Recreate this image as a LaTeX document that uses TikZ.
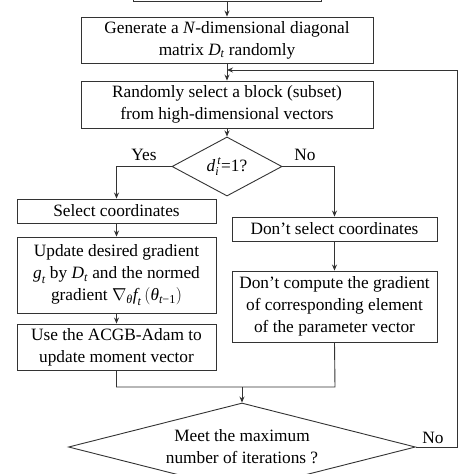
\documentclass[tikz,border=0pt]{standalone}
\usepackage{amsmath}
\usepackage{fontspec}
\setmainfont{Liberation Serif}
\usetikzlibrary{shapes.geometric,arrows.meta}
\begin{document}
\begin{tikzpicture}[x=1pt,y=-1pt,
  line width=0.9pt,
  every node/.style={font=\fontsize{17.3}{22}\selectfont, text=black},
  box/.style={draw=black!80, align=center, inner sep=0pt},
  dec/.style={draw=black!80, diamond, align=center, inner sep=0pt},
  arr/.style={-{Stealth[length=6pt,width=5pt]}},
  ln/.style={draw=black!80}
]
\useasboundingbox (0,0) rectangle (474,474);
\clip (0,0) rectangle (474,474);
\fill[white] (0,0) rectangle (474,474);

\node[box, minimum width=188pt, minimum height=30pt] (b1) at (227,-14) {};
\node[box, minimum width=292pt, minimum height=46pt] (b2) at (227,40)
  {Generate a \textit{N}-dimensional diagonal\\matrix $\textit{D}_{\textit{t}}$ randomly};
\node[box, minimum width=292pt, minimum height=47pt] (b3) at (227,104.5)
  {Randomly select a block (subset)\\from high-dimensional vectors};
\node[dec, minimum width=110pt, minimum height=47pt] (d1) at (227,166.5)
  {$\textit{d}^{\,\textit{t}}_{\textit{i}}$=1?};
\node[box, minimum width=199pt, minimum height=24pt] (sel) at (116.5,211)
  {Select coordinates};
\node[box, minimum width=199pt, minimum height=76pt] (up) at (116.5,275)
  {Update desired gradient\\$\textit{g}_{\textit{t}}$ by $\textit{D}_{\textit{t}}$ and the normed\\gradient $\nabla_{\textit{θ}}\textit{f}_{\textit{t}}\,(\textit{θ}_{\textit{t}\text{−1}})$};
\node[box, minimum width=199pt, minimum height=46pt] (ad) at (116.5,347)
  {Use the ACGB-Adam to\\update moment vector};
\node[box, minimum width=205pt, minimum height=24pt] (ds) at (334.5,229)
  {Don’t select coordinates};
\node[box, minimum width=205pt, minimum height=71pt] (dc) at (334.5,306.5)
  {Don’t compute the gradient\\of corresponding element\\of the parameter vector};
\node[dec, minimum width=347pt, minimum height=88pt] (d2) at (242,447) {};
\node[align=center, inner sep=0pt] (d2t) at (242,447)
  {Meet the maximum\\number of iterations ?};

\node (yes) at (144,155) {Yes};
\node (no1) at (305,155) {No};
\node (no2) at (433,438) {No};

\coordinate (jn) at (227,70);
\coordinate (lp1) at (457,447);
\coordinate (lp2) at (457,70);
\coordinate (ma) at (117,387);
\coordinate (mb) at (335,387);
\coordinate (mc) at (242,387);

\draw[ln,arr] (b1.south) -- (b2.north);
\draw[ln,arr] (b2.south) -- (b3.north);
\draw[ln,arr] (b3.south) -- (d1.north);
\draw[ln,arr] (d1.west) -| (sel.north);
\draw[ln,arr] (d1.east) -| (ds.north);
\draw[ln,arr] (sel.south) -- (up.north);
\draw[ln,arr] (up.south) -- (ad.north);
\draw[ln,arr] (ds.south) -- (dc.north);
\draw[ln] (ad.south) -- (ad.south |- ma) -- (mb) -- (dc.south);
\draw[ln,arr] (mc) -- (d2.north);
\draw[ln,arr] (d2.east) -- (lp1) -- (lp2) -- (jn);
\end{tikzpicture}
\end{document}
